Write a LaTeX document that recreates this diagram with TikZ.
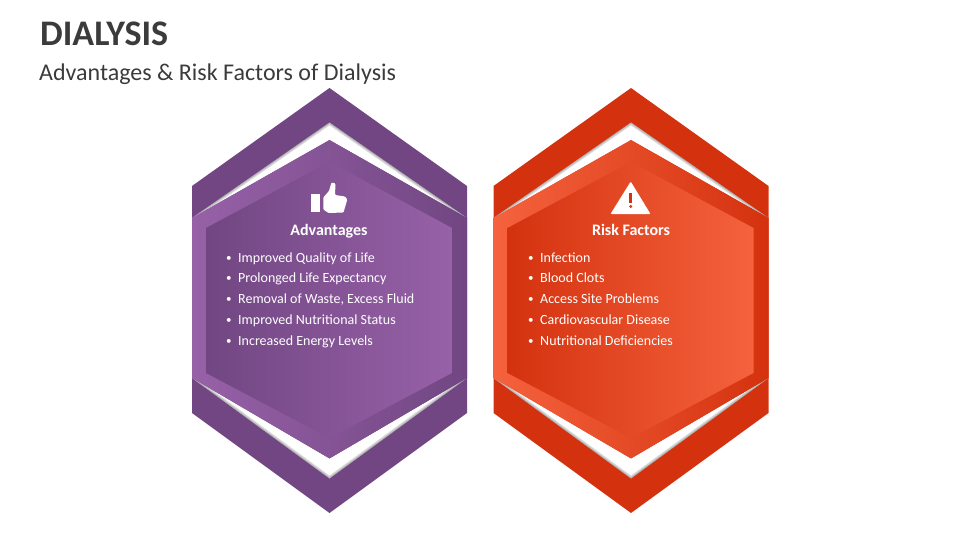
\documentclass[tikz,border=0pt]{standalone}
\usepackage{fontspec}
\setmainfont{Carlito}
\usepackage{tikz}
\definecolor{titlegray}{HTML}{3B3B3B}
\definecolor{purpledark}{HTML}{714682}
\definecolor{purplelight}{HTML}{9761A8}
\definecolor{reddark}{HTML}{D4320F}
\definecolor{redlight}{HTML}{F5623D}
\tikzset{
    heading/.style={anchor=base west, text=titlegray, inner sep=0pt},
    paneltitle/.style={anchor=base, text=white, font=\fontsize{16}{18}\selectfont\bfseries, inner sep=0pt},
    listline/.style={anchor=base west, text=white, font=\fontsize{14}{16}\selectfont, inner sep=0pt},
}
\newcommand{\listbullet}{\makebox[12pt][l]{\raisebox{0.8pt}{\fontsize{11}{11}\selectfont •}}}
% #1 shift, #2 dark, #3 light
\newcommand{\hexpanel}[3]{
    \begin{scope}[xshift=#1pt]
        \fill[#2] (329.5, 88) -- (467, 186) -- (467, 413) -- (329.5, 513) -- (192, 413) -- (192, 186) -- cycle;
        \begin{scope}
            \clip (192, 218) -- (329.5, 122.5) -- (467, 218) -- (329.5, 140) -- cycle;
            \fill[white] (192, 100) rectangle (467, 225);
            \foreach \w in {1, 3, 5}
                \draw[black, opacity=0.12, line width=\w pt] (192, 218) -- (329.5, 122.5) -- (467, 218);
        \end{scope}
        \begin{scope}
            \clip (192, 378) -- (329.5, 478.5) -- (467, 378) -- (329.5, 458.5) -- cycle;
            \fill[white] (192, 370) rectangle (467, 490);
            \foreach \w in {1, 3, 5}
                \draw[black, opacity=0.12, line width=\w pt] (192, 378) -- (329.5, 478.5) -- (467, 378);
        \end{scope}
        \shade[left color=#3, right color=#2] (329.5, 140) -- (467, 218) -- (467, 378) -- (329.5, 458.5) -- (192, 378) -- (192, 218) -- cycle;
        \shade[left color=#2, right color=#3] (329.5, 162) -- (452, 228) -- (452, 373) -- (329.5, 438) -- (206, 373) -- (206, 228) -- cycle;
    \end{scope}
}
\begin{document}
\begin{tikzpicture}[x=1pt, y=-1pt]
    \useasboundingbox (0, 0) rectangle (960, 540);
    \path (40, 46) node[heading, font=\fontsize{36}{40}\selectfont\bfseries](title) {DIALYSIS}
        (39, 81) node[heading, font=\fontsize{24}{28}\selectfont](subtitle) {Advantages \& Risk Factors of Dialysis};
    \hexpanel{0}{purpledark}{purplelight}
    \hexpanel{301.5}{reddark}{redlight}
    % thumb
    \fill[white] (311.3, 193.5) rectangle (320, 212);
    \fill[white, rounded corners=1pt] (323.3, 197.5) -- (329, 191) -- (331.5, 182.5) -- (335.5, 183.5) -- (335, 195) -- (345, 196.5) -- (347.3, 199.5) -- (343.5, 212.5) -- (328.5, 213) -- (323.3, 209.5) -- cycle;
    % warning sign
    \fill[white, rounded corners=1pt] (630.7, 181.5) -- (650.5, 214) -- (610.5, 214) -- cycle;
    \fill[reddark] (629.3, 193) rectangle (632.1, 203);
    \fill[reddark] (630.7, 206.5) circle (1.7);
    \path (329, 235.5) node[paneltitle](advantages) {Advantages}
        (631, 235.5) node[paneltitle](riskfactors) {Risk Factors};
    \foreach \txt [count=\i from 0] in {Improved Quality of Life, Prolonged Life Expectancy, {Removal of Waste, Excess Fluid}, Improved Nutritional Status, Increased Energy Levels}
        \node[listline] (adv\i) at (226, 262 + 20.75*\i) {\listbullet\txt};
    \foreach \txt [count=\i from 0] in {Infection, Blood Clots, Access Site Problems, Cardiovascular Disease, Nutritional Deficiencies}
        \node[listline] (risk\i) at (528, 262 + 20.75*\i) {\listbullet\txt};
\end{tikzpicture}
\end{document}
